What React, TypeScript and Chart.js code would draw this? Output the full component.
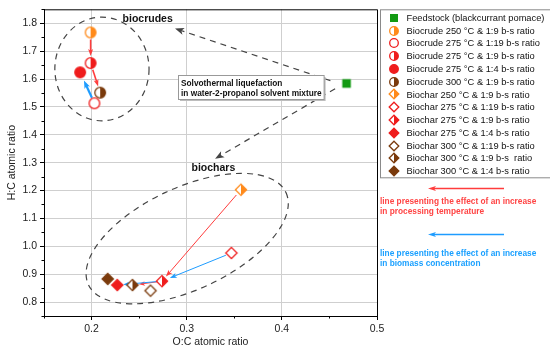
import { useEffect, useRef } from "react";
import { Chart, registerables } from "chart.js";
Chart.register(...registerables);

const FONT = 'Arial, "Liberation Sans", Helvetica, sans-serif';

// ---- data ----
const seriesLabels = [
  "Feedstock (blackcurrant pomace)",
  "Biocrude 250 °C & 1:9 b-s ratio",
  "Biocrude 275 °C & 1:19 b-s ratio",
  "Biocrude 275 °C & 1:9 b-s ratio",
  "Biocrude 275 °C & 1:4 b-s ratio",
  "Biocrude 300 °C & 1:9 b-s ratio",
  "Biochar 250 °C & 1:9 b-s ratio",
  "Biochar 275 °C & 1:19 b-s ratio",
  "Biochar 275 °C & 1:9 b-s ratio",
  "Biochar 275 °C & 1:4 b-s ratio",
  "Biochar 300 °C & 1:19 b-s ratio",
  "Biochar 300 °C & 1:9 b-s  ratio",
  "Biochar 300 °C & 1:4 b-s ratio",
];
const ocRatio = [0.468, 0.199, 0.203, 0.199, 0.188, 0.209, 0.357, 0.347, 0.274, 0.227, 0.262, 0.243, 0.217];
const hcRatio = [1.584, 1.767, 1.513, 1.657, 1.624, 1.551, 1.203, 0.976, 0.875, 0.861, 0.841, 0.861, 0.883];
const markerShapes = ["square", "circle", "circle", "circle", "circle", "circle", "diamond", "diamond", "diamond", "diamond", "diamond", "diamond", "diamond"];
const markerFills = ["full", "half", "none", "half", "full", "half", "half", "none", "half", "full", "none", "half", "full"];
const markerColors = ["#129a12", "#ff8a1a", "#ef1c1c", "#ef1c1c", "#ef1c1c", "#7a3a0c", "#ff8a1a", "#ef1c1c", "#ef1c1c", "#ef1c1c", "#7a3a0c", "#7a3a0c", "#7a3a0c"];

const xTicks = [0.2, 0.3, 0.4, 0.5];
const yTicks = [0.8, 0.9, 1.0, 1.1, 1.2, 1.3, 1.4, 1.5, 1.6, 1.7, 1.8];
const xMinorTicks = [0.15, 0.25, 0.35, 0.45];
const yMinorTicks = [0.75, 0.85, 0.95, 1.05, 1.15, 1.25, 1.35, 1.45, 1.55, 1.65, 1.75, 1.85];

const RED_ARROW = "#ff3c3c";
const BLUE_ARROW = "#1e9cff";

function makeMarker(shape: string, fill: string, color: string, r: number) {
  const pad = 2;
  const s = Math.ceil(2 * r + 2 * pad) + (Math.ceil(2 * r + 2 * pad) % 2);
  const c = document.createElement("canvas");
  c.width = s;
  c.height = s;
  const ctx = c.getContext("2d")!;
  const cx = s / 2, cy = s / 2;
  const path = () => {
    ctx.beginPath();
    if (shape === "circle") ctx.arc(cx, cy, r, 0, Math.PI * 2);
    else if (shape === "diamond") {
      ctx.moveTo(cx, cy - r);
      ctx.lineTo(cx + r, cy);
      ctx.lineTo(cx, cy + r);
      ctx.lineTo(cx - r, cy);
      ctx.closePath();
    } else ctx.rect(cx - r, cy - r, 2 * r, 2 * r);
  };
  path();
  ctx.fillStyle = fill === "full" ? color : "#ffffff";
  ctx.fill();
  if (fill === "half") {
    ctx.save();
    path();
    ctx.clip();
    ctx.fillStyle = color;
    ctx.fillRect(cx, 0, s, s);
    ctx.restore();
  }
  if (shape !== "square") {
    path();
    ctx.lineWidth = 1.3;
    ctx.strokeStyle = color;
    ctx.stroke();
  }
  return c;
}

function drawArrow(ctx: CanvasRenderingContext2D, x1: number, y1: number, x2: number, y2: number, o: any) {
  const a = Math.atan2(y2 - y1, x2 - x1);
  const c = Math.cos(a), s = Math.sin(a);
  ctx.save();
  ctx.strokeStyle = o.color;
  ctx.fillStyle = o.color;
  ctx.lineWidth = o.width;
  ctx.setLineDash(o.dash || []);
  ctx.beginPath();
  ctx.moveTo(x1, y1);
  ctx.lineTo(x2 - c * o.head * 0.7, y2 - s * o.head * 0.7);
  ctx.stroke();
  ctx.setLineDash([]);
  ctx.beginPath();
  ctx.moveTo(x2, y2);
  ctx.lineTo(x2 - c * o.head - s * o.headW / 2, y2 - s * o.head + c * o.headW / 2);
  ctx.lineTo(x2 - c * o.head * 0.75, y2 - s * o.head * 0.75);
  ctx.lineTo(x2 - c * o.head + s * o.headW / 2, y2 - s * o.head - c * o.headW / 2);
  ctx.closePath();
  ctx.fill();
  ctx.restore();
}

function pointArrow(ctx: CanvasRenderingContext2D, chart: any, i: number, j: number, color: string, width: number, s1: number, s2: number, head: number, headW: number) {
  const { x, y } = chart.scales;
  const x1 = x.getPixelForValue(ocRatio[i]), y1 = y.getPixelForValue(hcRatio[i]);
  const x2 = x.getPixelForValue(ocRatio[j]), y2 = y.getPixelForValue(hcRatio[j]);
  const d = Math.hypot(x2 - x1, y2 - y1);
  const ux = (x2 - x1) / d, uy = (y2 - y1) / d;
  drawArrow(ctx, x1 + ux * s1, y1 + uy * s1, x2 - ux * s2, y2 - uy * s2, { color, width, head, headW });
}

let legendMarkers: HTMLCanvasElement[] = [];

const annotationPlugin = {
  id: "annot",
  beforeDatasetsDraw(chart: any) {
    const { ctx, scales: { x, y } } = chart;
    ctx.save();
    ctx.strokeStyle = "#444";
    ctx.lineWidth = 1.2;
    ctx.setLineDash([6, 5]);
    const c1x = x.getPixelForValue(0.2109), c1y = y.getPixelForValue(1.636);
    const r1x = x.getPixelForValue(0.2109 + 0.0495) - c1x;
    const r1y = c1y - y.getPixelForValue(1.636 + 0.186);
    ctx.beginPath();
    ctx.ellipse(c1x, c1y, r1x, r1y, 0, 0, Math.PI * 2);
    ctx.stroke();
    const c2x = x.getPixelForValue(0.3005), c2y = y.getPixelForValue(1.0276);
    ctx.beginPath();
    ctx.ellipse(c2x, c2y, 109, 51, (-25 * Math.PI) / 180, 0, Math.PI * 2);
    ctx.stroke();
    ctx.restore();

    drawArrow(ctx, x.getPixelForValue(0.451), y.getPixelForValue(1.594), x.getPixelForValue(0.2877), y.getPixelForValue(1.781),
      { color: "#444", width: 1.2, head: 9, headW: 7, dash: [6, 5] });
    drawArrow(ctx, x.getPixelForValue(0.456), y.getPixelForValue(1.565), x.getPixelForValue(0.3298), y.getPixelForValue(1.314),
      { color: "#444", width: 1.2, head: 9, headW: 7, dash: [6, 5] });

    pointArrow(ctx, chart, 1, 3, RED_ARROW, 1.6, 7, 7, 7, 5);
    pointArrow(ctx, chart, 3, 5, RED_ARROW, 1.6, 7, 6.5, 7, 5);
    pointArrow(ctx, chart, 2, 4, BLUE_ARROW, 2.2, 6, 9, 8, 6);
    pointArrow(ctx, chart, 6, 8, RED_ARROW, 1, 7, 6, 7, 5);
    pointArrow(ctx, chart, 8, 11, RED_ARROW, 1, 4, 6.5, 6, 4.5);
    pointArrow(ctx, chart, 7, 8, BLUE_ARROW, 1, 6, 8.5, 7, 5);
    pointArrow(ctx, chart, 8, 9, BLUE_ARROW, 1, 4, 6, 6, 4.5);
  },
  afterDatasetsDraw(chart: any) {
    const { ctx, scales: { x, y } } = chart;
    ctx.save();
    ctx.fillStyle = "#111";
    ctx.font = `bold 10.5px ${FONT}`;
    ctx.textAlign = "center";
    ctx.textBaseline = "middle";
    ctx.fillText("biocrudes", x.getPixelForValue(0.259), y.getPixelForValue(1.816));
    ctx.fillText("biochars", x.getPixelForValue(0.328), y.getPixelForValue(1.282));

    const bx = Math.round(x.getPixelForValue(0.2907)) + 0.5;
    const by = Math.round(y.getPixelForValue(1.615)) + 0.5;
    ctx.font = `bold 8.3px ${FONT}`;
    const l1 = "Solvothermal liquefaction";
    const l2 = "in water-2-propanol solvent mixture";
    const w = Math.max(ctx.measureText(l1).width, ctx.measureText(l2).width) + 5;
    const h = 24;
    ctx.fillStyle = "#bdbdbd";
    ctx.fillRect(bx + 1.5, by + 1.5, w, h);
    ctx.fillStyle = "#fff";
    ctx.fillRect(bx, by, w, h);
    ctx.strokeStyle = "#999";
    ctx.lineWidth = 1;
    ctx.strokeRect(bx, by, w, h);
    ctx.fillStyle = "#111";
    ctx.textAlign = "left";
    ctx.fillText(l1, bx + 2.5, by + 8.5);
    ctx.fillText(l2, bx + 2.5, by + 18.5);
    ctx.restore();
  },
  afterDraw(chart: any) {
    const { ctx, chartArea: ca, scales: { x, y } } = chart;
    ctx.save();
    ctx.strokeStyle = "#000";
    ctx.lineWidth = 1;
    ctx.beginPath();
    ctx.moveTo(ca.left, ca.top + 0.5);
    ctx.lineTo(ca.right + 0.5, ca.top + 0.5);
    ctx.lineTo(ca.right + 0.5, ca.bottom);
    ctx.stroke();
    ctx.beginPath();
    for (const v of xMinorTicks) {
      const px = Math.round(x.getPixelForValue(v)) + 0.5;
      ctx.moveTo(px, ca.bottom);
      ctx.lineTo(px, ca.bottom + 2.5);
    }
    for (const v of yMinorTicks) {
      const py = Math.round(y.getPixelForValue(v)) + 0.5;
      ctx.moveTo(ca.left - 2.5, py);
      ctx.lineTo(ca.left, py);
    }
    ctx.stroke();

    const lx = ca.right + 3.5, ly = ca.top + 0.5;
    ctx.fillStyle = "#fff";
    ctx.fillRect(lx, ly, 200, 168);
    ctx.strokeStyle = "#8a8a8a";
    ctx.strokeRect(lx, ly, 200, 168);
    ctx.font = `9.3px ${FONT}`;
    ctx.textAlign = "left";
    ctx.textBaseline = "middle";
    chart.data.datasets.forEach((ds: any, i: number) => {
      const ry = ly + 8 + i * 12.78;
      const img = legendMarkers[i];
      ctx.drawImage(img, Math.round(lx + 13 - img.width / 2), Math.round(ry - img.height / 2));
      ctx.fillStyle = "#111";
      ctx.fillText(ds.label, lx + 26, ry + 0.5);
    });

    const nx = ca.right + 3;
    drawArrow(ctx, nx + 124, 188.5, nx + 48, 188.5, { color: RED_ARROW, width: 1.3, head: 8, headW: 5 });
    ctx.font = `bold 8.3px ${FONT}`;
    ctx.fillStyle = "#ff4444";
    ctx.fillText("line presenting the effect of an increase", nx, 201.5);
    ctx.fillText("in processing temperature", nx, 211.5);
    drawArrow(ctx, nx + 124, 234.5, nx + 48, 234.5, { color: BLUE_ARROW, width: 1.3, head: 8, headW: 5 });
    ctx.fillStyle = "#1aa0ff";
    ctx.fillText("line presenting the effect of an increase", nx, 253.5);
    ctx.fillText("in biomass concentration", nx, 263.5);
    ctx.restore();
  },
};

export default function App() {
  const ref = useRef<HTMLCanvasElement>(null);
  useEffect(() => {
    if (!ref.current) return;
    const plotMarkers = seriesLabels.map((_, i) =>
      makeMarker(markerShapes[i], markerFills[i], markerColors[i], markerShapes[i] === "square" ? 4.3 : markerShapes[i] === "diamond" ? 5.6 : 5.3)
    );
    legendMarkers = seriesLabels.map((_, i) =>
      makeMarker(markerShapes[i], markerFills[i], markerColors[i], markerShapes[i] === "square" ? 4 : markerShapes[i] === "diamond" ? 4.8 : 4.3)
    );
    const datasets = seriesLabels.map((label, i) => ({
      label,
      data: [{ x: ocRatio[i], y: hcRatio[i] }],
      pointStyle: plotMarkers[i],
      pointRadius: 6,
      showLine: false,
    }));
    const axisFont = { size: 10.5, family: FONT };
    const chart = new Chart(ref.current, {
      type: "scatter",
      data: { datasets },
      plugins: [annotationPlugin],
      options: {
        animation: false,
        responsive: false,
        events: [],
        layout: { padding: { top: 5, right: 173, bottom: 0, left: 0 } },
        plugins: { legend: { display: false }, tooltip: { enabled: false } },
        scales: {
          x: {
            type: "linear",
            min: 0.15,
            max: 0.5,
            afterBuildTicks: (s: any) => { s.ticks = xTicks.map((v) => ({ value: v })); },
            afterFit: (s: any) => { s.height = 35; },
            grid: { color: "#cfcfcf", tickColor: "#000", tickLength: 4, lineWidth: 1 },
            border: { color: "#000", width: 1 },
            ticks: { font: axisFont, color: "#222", padding: 3, maxRotation: 0, callback: (v: any) => Number(v).toFixed(1) },
            title: { display: true, text: "O:C atomic ratio", font: axisFont, color: "#222", padding: { top: 0, bottom: 3 } },
          },
          y: {
            type: "linear",
            min: 0.75,
            max: 1.85,
            afterBuildTicks: (s: any) => { s.ticks = yTicks.map((v) => ({ value: v })); },
            afterFit: (s: any) => { s.width = 44; },
            grid: { color: "#cfcfcf", tickColor: "#000", tickLength: 4, lineWidth: 1 },
            border: { color: "#000", width: 1 },
            ticks: { font: axisFont, color: "#222", padding: 3, callback: (v: any) => Number(v).toFixed(1) },
            title: { display: true, text: "H:C atomic ratio", font: axisFont, color: "#222", padding: { top: 6, bottom: 0 } },
          },
        },
      } as any,
    });
    return () => chart.destroy();
  }, []);
  return (
    <div style={{ position: "absolute", left: 0, top: 0, width: 550, height: 351, background: "#fff" }}>
      <canvas ref={ref} width={550} height={351} style={{ display: "block" }} />
    </div>
  );
}
